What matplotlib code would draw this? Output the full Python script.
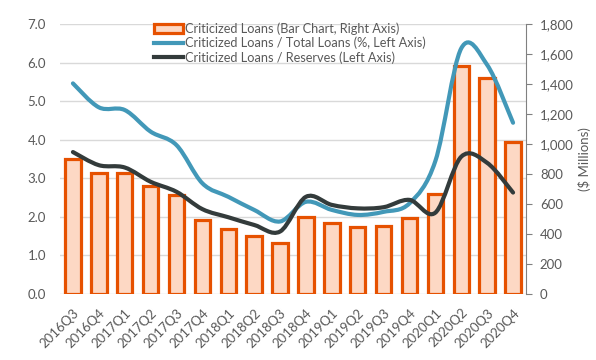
import numpy as np
import matplotlib
matplotlib.use("Agg")
import matplotlib.pyplot as plt
from matplotlib.path import Path
from matplotlib.patches import PathPatch, Patch
from matplotlib.lines import Line2D
from matplotlib.ticker import FuncFormatter, MultipleLocator

quarters = ["2016Q3", "2016Q4", "2017Q1", "2017Q2", "2017Q3", "2017Q4",
            "2018Q1", "2018Q2", "2018Q3", "2018Q4", "2019Q1", "2019Q2",
            "2019Q3", "2019Q4", "2020Q1", "2020Q2", "2020Q3", "2020Q4"]
criticized_loans = [900, 805, 805, 722, 660, 492, 432, 386, 338, 512,
                    473, 446, 453, 506, 670, 1522, 1443, 1016]
pct_total_loans = [5.46, 4.84, 4.77, 4.21, 3.86, 2.87, 2.52, 2.18, 1.88,
                   2.39, 2.18, 2.05, 2.13, 2.35, 3.45, 6.37, 5.94, 4.44]
pct_reserves = [3.68, 3.34, 3.28, 2.91, 2.65, 2.20, 1.99, 1.79, 1.62,
                2.52, 2.31, 2.22, 2.25, 2.44, 2.11, 3.56, 3.40, 2.63]

ORANGE = "#E65100"
PEACH = "#FDD8C4"
BLUE = "#4298B8"
DARK = "#333B3B"
GRID = "#D9D9D9"
TXT = "#595959"

plt.rcParams["font.family"] = ["Lato", "DejaVu Sans"]


def smooth_path(xs, ys):
    # Excel-style smoothed line: cubic bezier segments through each point
    pts = np.column_stack([xs, ys]).astype(float)
    verts = [pts[0]]
    codes = [Path.MOVETO]
    n = len(pts)
    for i in range(n - 1):
        p0 = pts[i - 1] if i > 0 else pts[i]
        p1, p2 = pts[i], pts[i + 1]
        p3 = pts[i + 2] if i + 2 < n else pts[i + 1]
        c1 = p1 + (p2 - p0) / 6.0
        c2 = p2 - (p3 - p1) / 6.0
        verts += [c1, c2, p2]
        codes += [Path.CURVE4] * 3
    return Path(verts, codes)


fig = plt.figure(figsize=(5.96, 3.6), dpi=100)
ax = fig.add_axes([60 / 596, 66 / 360, 466 / 596, 270 / 360])
ax2 = ax.twinx()

x = np.arange(len(quarters))

# bars on right axis, drawn behind the lines
ax2.bar(x, criticized_loans, width=0.6, color=PEACH, edgecolor=ORANGE,
        linewidth=2.3, zorder=2)
ax2.set_ylim(0, 1800)
ax2.yaxis.set_major_locator(MultipleLocator(200))
ax2.yaxis.set_major_formatter(FuncFormatter(lambda v, p: f"{int(v):,}"))
ax2.set_ylabel("($ Millions)", color=TXT, fontsize=9.5, labelpad=3)

# lines on left axis
ax.set_zorder(ax2.get_zorder() + 1)
ax.patch.set_visible(False)
ax.add_patch(PathPatch(smooth_path(x, pct_total_loans), fill=False,
                       edgecolor=BLUE, linewidth=3, capstyle="round", zorder=4))
ax.add_patch(PathPatch(smooth_path(x, pct_reserves), fill=False,
                       edgecolor=DARK, linewidth=3, capstyle="round", zorder=5))
ax.set_ylim(0, 7)
ax.set_xlim(-0.5, len(quarters) - 0.5)
ax.yaxis.set_major_locator(MultipleLocator(1))
ax.yaxis.set_major_formatter(FuncFormatter(lambda v, p: f"{v:.1f}"))

# gridlines live on the back axis so bars sit over them
ax2.set_yticks(np.arange(0, 1801, 200))
for v in np.arange(0, 7.01, 1):
    ax2.axhline(v * 1800 / 7, color=GRID, linewidth=1, zorder=0)

ax.set_xticks(x)
ax.set_xticklabels(quarters, rotation=45, ha="right", rotation_mode="anchor")

for a in (ax, ax2):
    for s in a.spines.values():
        s.set_visible(False)
ax2.spines["right"].set_visible(True)
ax2.spines["right"].set_color("#808080")

ax.tick_params(axis="y", length=0, labelsize=9.5, labelcolor=TXT, pad=10)
ax.tick_params(axis="x", length=0, labelsize=9.5, labelcolor=TXT, pad=9)
ax2.tick_params(axis="y", length=4, color="#808080", labelsize=9.5,
                labelcolor=TXT, pad=6)

handles = [
    Patch(facecolor=PEACH, edgecolor=ORANGE, linewidth=2.3),
    Line2D([0], [0], color=BLUE, linewidth=3),
    Line2D([0], [0], color=DARK, linewidth=3),
]
labels = [
    "Criticized Loans (Bar Chart, Right Axis)",
    "Criticized Loans / Total Loans (%, Left Axis)",
    "Criticized Loans / Reserves (Left Axis)",
]
leg = ax.legend(handles, labels, loc="upper left", bbox_to_anchor=(0.19, 1.025),
                frameon=False, fontsize=9.2, labelcolor=TXT, handlelength=2.3,
                handletextpad=0.15, labelspacing=0.15, borderaxespad=0)
leg.set_zorder(10)

fig.savefig("out.png", dpi=100)
